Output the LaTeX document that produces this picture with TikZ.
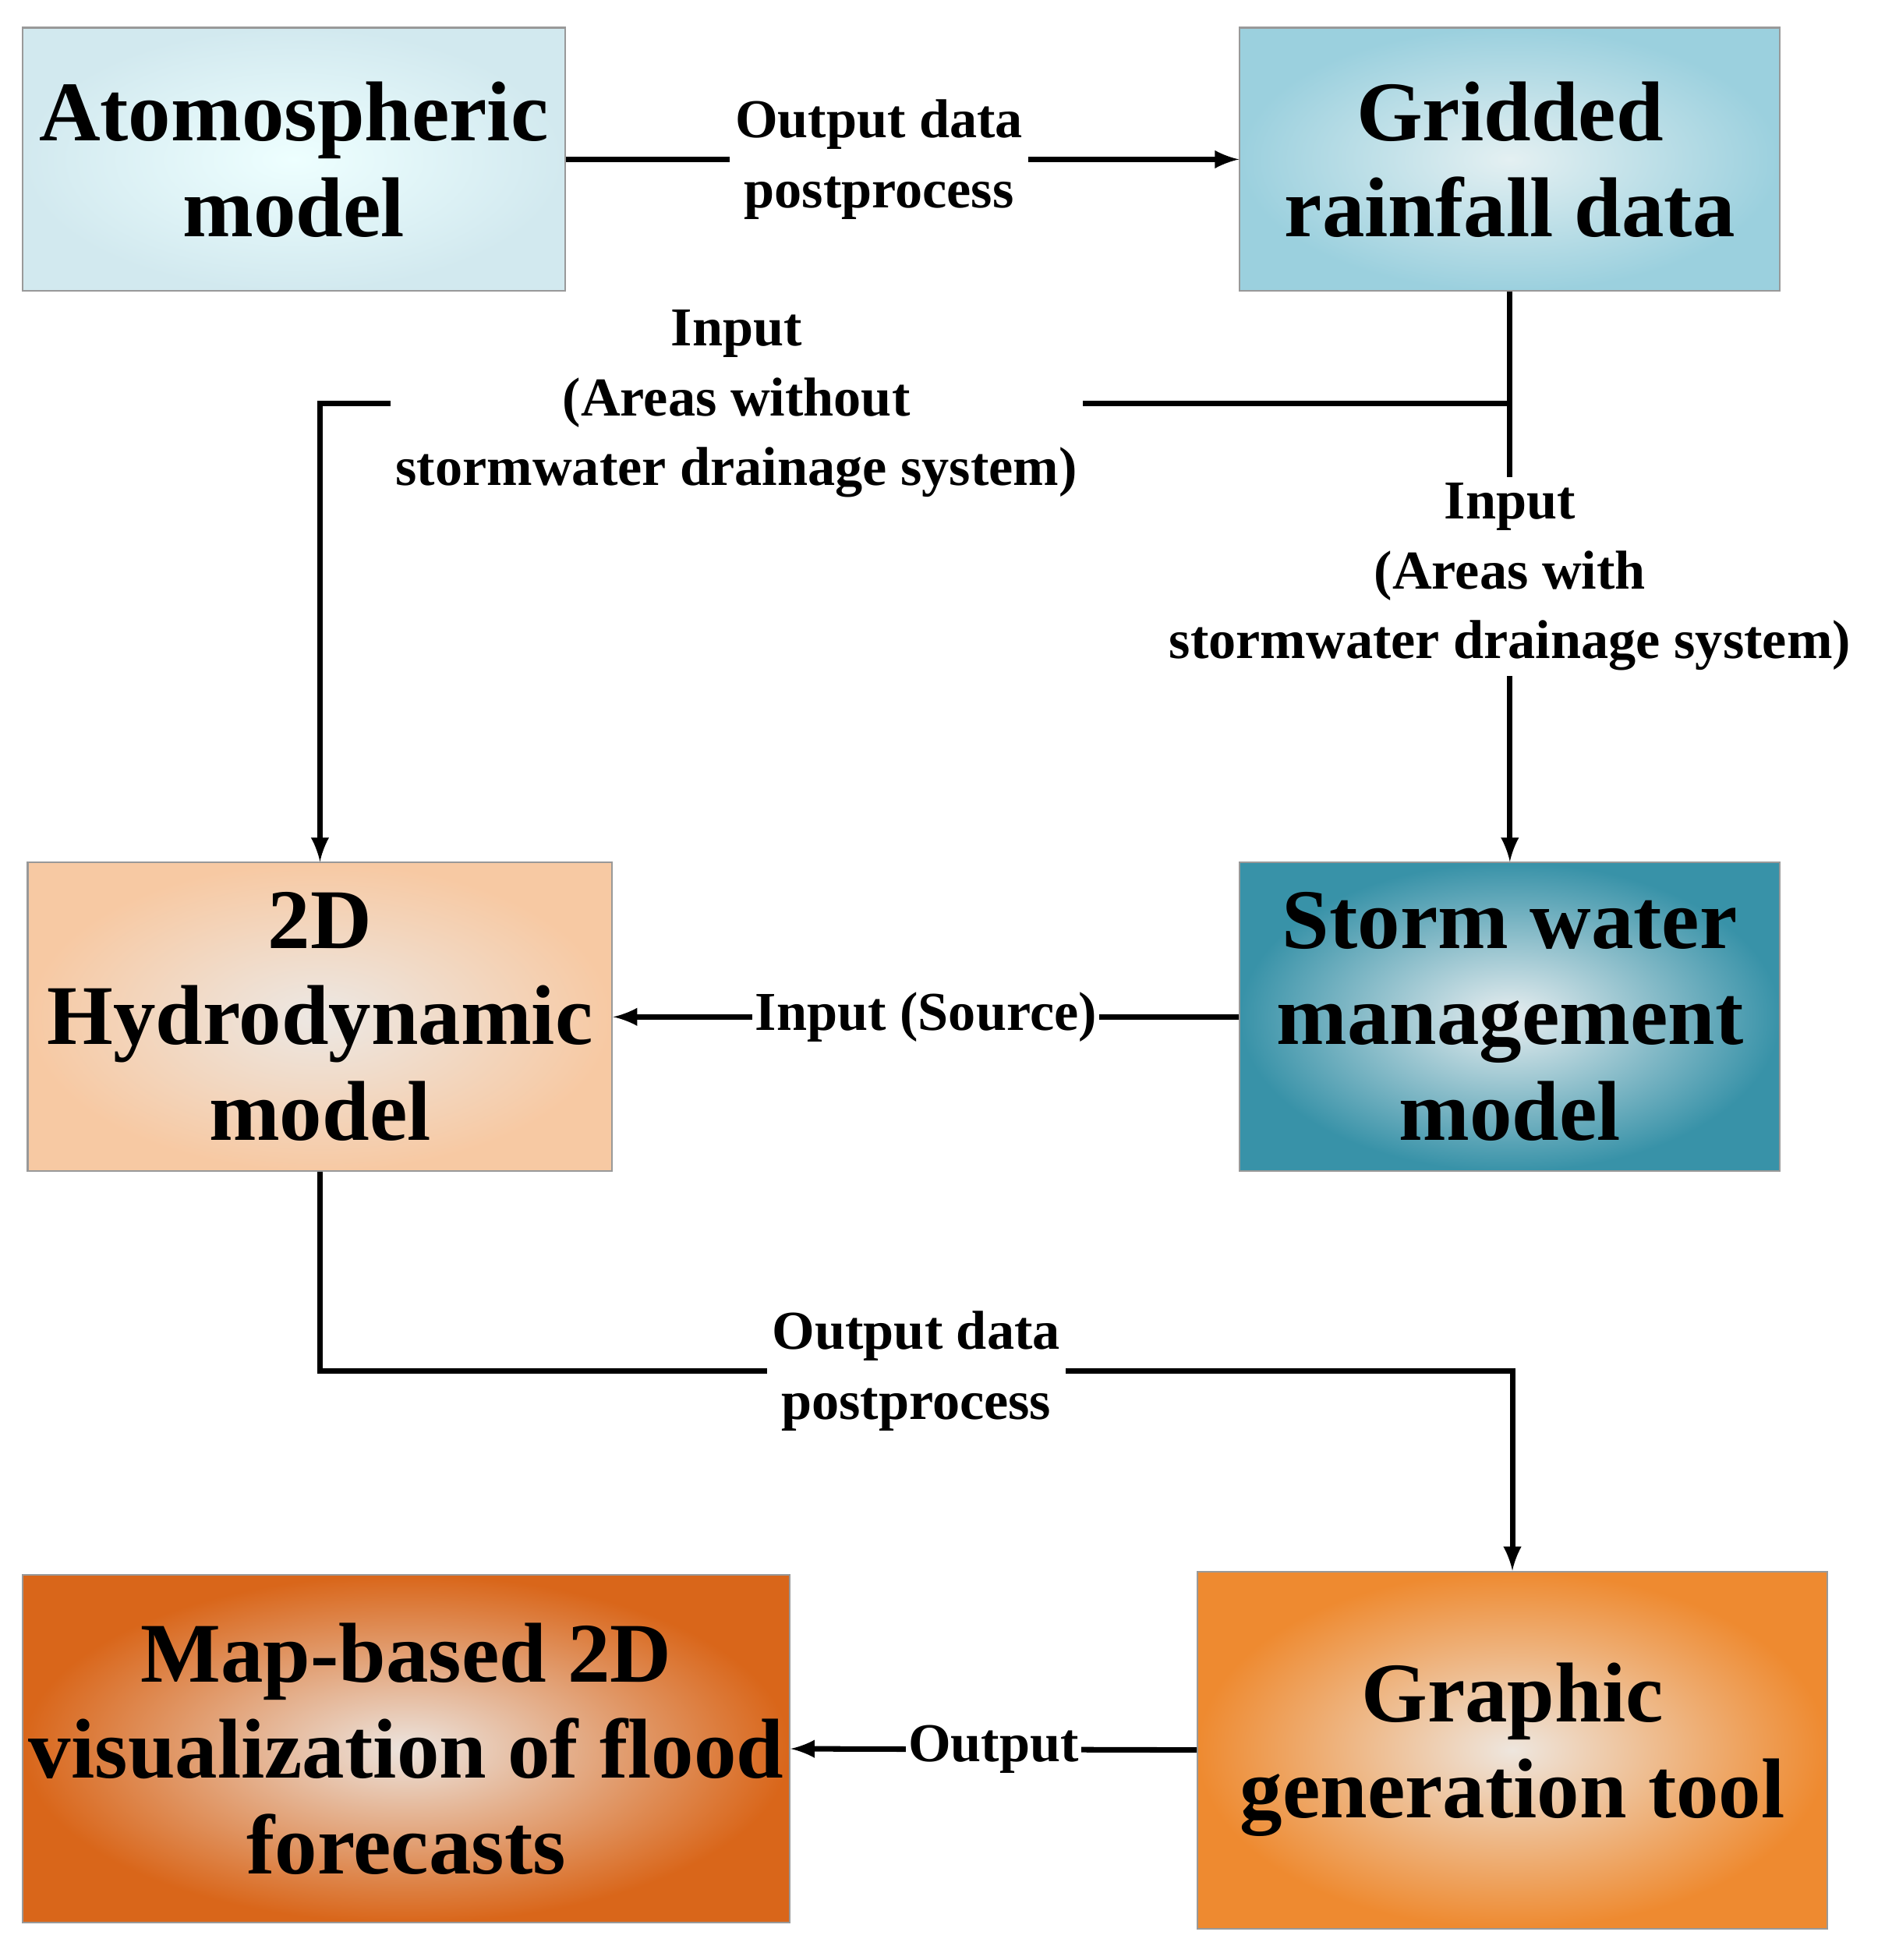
\documentclass[tikz,border=0pt]{standalone}
\usepackage{fontspec}
\setmainfont{Liberation Serif}
\begin{document}
\begin{tikzpicture}[x=0.01603cm,y=-0.01603cm,
  box/.style={draw=black!40,line width=0.6pt,inner sep=0pt,align=center,font=\bfseries\fontsize{31}{35}\selectfont},
  lbl/.style={fill=white,inner sep=2pt,align=center,font=\bfseries\fontsize{20}{25.5}\selectfont},
  con/.style={line width=2pt},
  arr/.style={con,-latex}]
\useasboundingbox (0,0) rectangle (1508,1568);
\fill[white] (0,0) rectangle (1508,1568);
\node[box,minimum width=434\pgflinewidth,shading=radial,inner color=white!55!cyan!15,outer color={rgb,255:red,210;green,233;blue,239},minimum width=6.96cm,minimum height=3.38cm] (atm) at (235,127.5) {Atomospheric\\model};
\node[box,shading=radial,inner color={rgb,255:red,228;green,240;blue,242},outer color={rgb,255:red,155;green,208;blue,222},minimum width=6.93cm,minimum height=3.38cm] (grid) at (1208,127.5) {Gridded\\rainfall data};
\node[box,shading=radial,inner color={rgb,255:red,236;green,232;blue,228},outer color={rgb,255:red,247;green,201;blue,163},minimum width=7.50cm,minimum height=3.96cm] (hyd) at (256,813.5) {2D\\Hydrodynamic\\model};
\node[box,shading=radial,inner color={rgb,255:red,232;green,238;blue,240},outer color={rgb,255:red,56;green,146;blue,168},minimum width=6.93cm,minimum height=3.96cm] (swm) at (1208,813.5) {Storm water\\management\\model};
\node[box,shading=radial,inner color={rgb,255:red,236;green,228;blue,222},outer color={rgb,255:red,217;green,102;blue,26},minimum width=9.84cm,minimum height=4.46cm] (map) at (325,1399) {Map-based 2D\\visualization of flood\\forecasts};
\node[box,shading=radial,inner color={rgb,255:red,238;green,230;blue,222},outer color={rgb,255:red,238;green,138;blue,48},minimum width=8.08cm,minimum height=4.58cm] (gfx) at (1210,1400) {Graphic\\generation tool};
% connectors
\draw[arr] (atm.east) -- (grid.west) node[lbl,midway,xshift=-0.3cm] {Output data\\postprocess};
\coordinate (br) at (1208,323);
\coordinate (c1) at (256,323);
\draw[arr] (grid.south) -- (swm.north) node[lbl,pos=0.5] {Input\\(Areas with\\stormwater drainage system)};
\draw[arr] (br) -- (c1) node[lbl,pos=0.65] {Input\\(Areas without\\stormwater drainage system)} -- (hyd.north);
\draw[arr] (swm.west) -- (hyd.east) node[lbl,pos=0.5,inner sep=1pt] {Input (Source)};
\coordinate (d1) at (256,1097);
\coordinate (d2) at (1210,1097);
\draw[arr] (hyd.south) -- (d1) -- (d2) node[lbl,pos=0.5] {Output data\\postprocess} -- (gfx.north);
\draw[arr] (gfx.west) -- (map.east) node[lbl,pos=0.5,inner sep=1pt] {Output};
\end{tikzpicture}
\end{document}
